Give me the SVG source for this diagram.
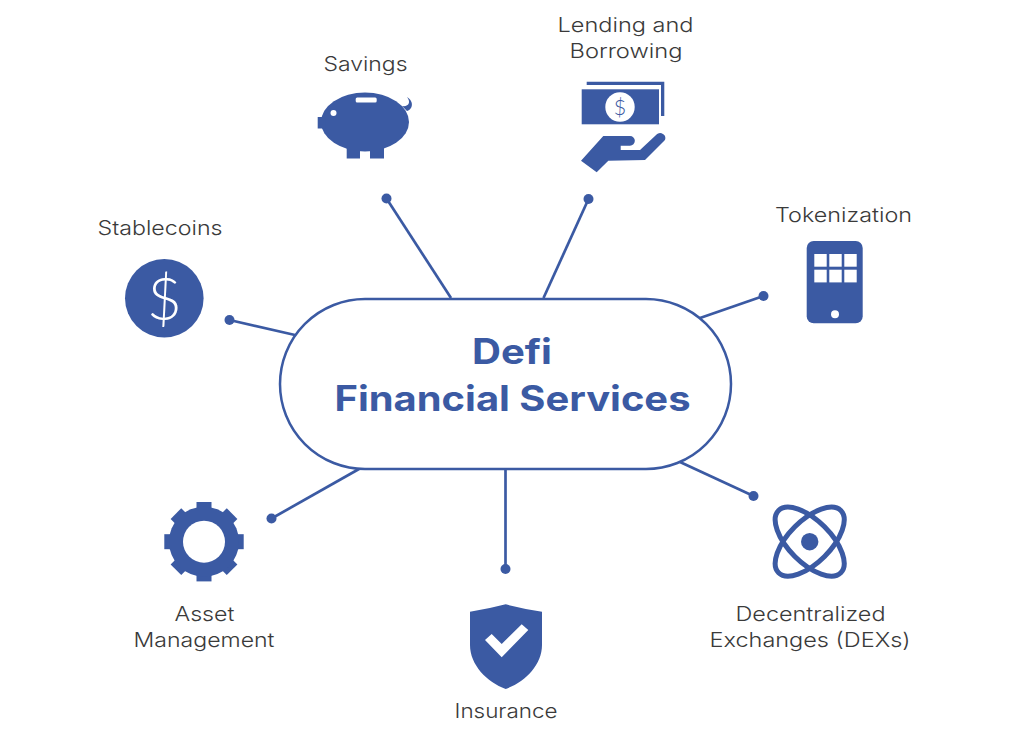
<svg xmlns="http://www.w3.org/2000/svg" width="1024" height="735" viewBox="0 0 1024 735">
<style>
.lbl{font-family:"Inter","Liberation Sans",sans-serif;font-size:20px;font-weight:300;fill:#3a3a3a;text-anchor:middle}
.ttl{font-family:"Inter","Liberation Sans",sans-serif;font-size:35px;font-weight:700;fill:#3b5aa3;text-anchor:middle}
.ic{fill:#3b5aa3}
.wh{fill:#fff}
.ln{stroke:#3b5aa3;stroke-width:2.700;fill:none}
.dot{fill:#3b5aa3}
</style>
<rect width="1024" height="735" fill="#fff"/>
<g id="connectors">
<line class="ln" x1="386.500" y1="198.500" x2="451" y2="298"/><circle class="dot" cx="386.500" cy="198.500" r="5"/>
<line class="ln" x1="588.500" y1="199" x2="543.500" y2="298"/><circle class="dot" cx="588.500" cy="199" r="5"/>
<line class="ln" x1="763.500" y1="296" x2="700" y2="318"/><circle class="dot" cx="763.500" cy="296" r="5"/>
<line class="ln" x1="229.500" y1="320" x2="295" y2="335"/><circle class="dot" cx="229.500" cy="320" r="5"/>
<line class="ln" x1="271.500" y1="518.500" x2="359" y2="469"/><circle class="dot" cx="271.500" cy="518.500" r="5"/>
<line class="ln" x1="505.500" y1="569" x2="505.500" y2="469"/><circle class="dot" cx="505.500" cy="569" r="5"/>
<line class="ln" x1="753.500" y1="496" x2="680" y2="462"/><circle class="dot" cx="753.500" cy="496" r="5"/>
</g>
<g id="center">
<rect x="280" y="299" width="451" height="170" rx="85" ry="85" fill="#fff" stroke="#3b5aa3" stroke-width="2.500"/>
<text class="ttl" x="512" y="364" textLength="80" lengthAdjust="spacingAndGlyphs">Defi</text>
<text class="ttl" x="512.500" y="411" textLength="356" lengthAdjust="spacingAndGlyphs">Financial Services</text>
</g>
<g id="savings">
<text class="lbl" x="365.500" y="71" textLength="84" lengthAdjust="spacingAndGlyphs">Savings</text>
<ellipse class="ic" cx="365" cy="122" rx="44" ry="29.500"/>
<rect class="ic" x="317.700" y="117" width="8" height="11.500"/>
<rect class="ic" x="346.700" y="145" width="13.300" height="13.500"/>
<rect class="ic" x="370" y="145" width="14" height="13.500"/>
<circle class="wh" cx="333.500" cy="113" r="3"/>
<rect class="wh" x="355.700" y="97.500" width="21" height="5" rx="1.500"/>
<path class="ic" d="M407 97C411 102 409 107 402 106L407 111C412 110 415 102 407 97Z"/>
</g>
<g id="lending">
<text class="lbl" x="625.500" y="32" textLength="136" lengthAdjust="spacingAndGlyphs">Lending and</text>
<text class="lbl" x="626" y="58" textLength="113" lengthAdjust="spacingAndGlyphs">Borrowing</text>
<path class="ic" d="M586.700 81.700H664.300V116H661V85H586.700Z"/>
<rect class="ic" x="581.700" y="89.300" width="77.300" height="35"/>
<circle class="wh" cx="620" cy="107" r="14.700"/>
<text x="620" y="115" font-family="Lato,'Liberation Sans',sans-serif" font-size="22" font-weight="300" fill="#3b5aa3" text-anchor="middle">$</text>
<path class="ic" d="M581 160.700L603.300 136H630A4.850 4.850 0 0 1 630 145.700H620.700V150H640L655 136C659 131 663 133 665 136C666 139 665 140 663 142L645 160L608.300 160.700L596.700 172.300Z"/>
</g>
<g id="tokenization">
<text class="lbl" x="843.500" y="222" textLength="137" lengthAdjust="spacingAndGlyphs">Tokenization</text>
<rect class="ic" x="806.700" y="241" width="56" height="82.300" rx="7"/>
<g class="wh">
<rect x="814.300" y="254" width="12.400" height="12.700"/><rect x="829.300" y="254" width="12.400" height="12.700"/><rect x="844.300" y="254" width="12.400" height="12.700"/>
<rect x="814.300" y="269.700" width="12.400" height="12.700"/><rect x="829.300" y="269.700" width="12.400" height="12.700"/><rect x="844.300" y="269.700" width="12.400" height="12.700"/>
</g>
<circle class="wh" cx="835" cy="314.300" r="4"/>
</g>
<g id="stablecoins">
<text class="lbl" x="160" y="235" textLength="125" lengthAdjust="spacingAndGlyphs">Stablecoins</text>
<circle class="ic" cx="164.300" cy="298.300" r="39.300"/>
<text x="164.300" y="319.500" font-family="Lato,'Liberation Sans',sans-serif" font-size="60" font-weight="300" fill="#fff" text-anchor="middle">$</text>
</g>
<g id="asset">
<g class="ic" transform="translate(204 541.700)">
<rect x="-7.500" y="-39.700" width="15" height="79.400"/>
<rect x="-7.500" y="-39.700" width="15" height="79.400" transform="rotate(45)"/>
<rect x="-7.500" y="-39.700" width="15" height="79.400" transform="rotate(90)"/>
<rect x="-7.500" y="-39.700" width="15" height="79.400" transform="rotate(135)"/>
<circle r="35"/>
<circle class="wh" r="21"/>
</g>
<text class="lbl" x="204.500" y="621" textLength="60" lengthAdjust="spacingAndGlyphs">Asset</text>
<text class="lbl" x="204" y="647" textLength="141" lengthAdjust="spacingAndGlyphs">Management</text>
</g>
<g id="insurance">
<path class="ic" d="M470 611.700Q488 609 505.700 604.300Q524 609 542 611.700V645C542 665 525 682 505.700 689C487 682 470 665 470 645Z"/>
<path class="wh" d="M485 640L501.700 657.300L528.300 630L521.700 624.300L501.700 644L491.700 634Z"/>
<text class="lbl" x="506" y="718" textLength="103" lengthAdjust="spacingAndGlyphs">Insurance</text>
</g>
<g id="dexs">
<g transform="translate(809.700 541.700)" fill="none" stroke="#3b5aa3" stroke-width="5">
<ellipse rx="44" ry="21" transform="rotate(45)"/>
<ellipse rx="44" ry="21" transform="rotate(-45)"/>
<circle class="ic" r="8.700" stroke="none"/>
</g>
<text class="lbl" x="810.500" y="621" textLength="150" lengthAdjust="spacingAndGlyphs">Decentralized</text>
<text class="lbl" x="810" y="647" textLength="201" lengthAdjust="spacingAndGlyphs">Exchanges (DEXs)</text>
</g>
</svg>
